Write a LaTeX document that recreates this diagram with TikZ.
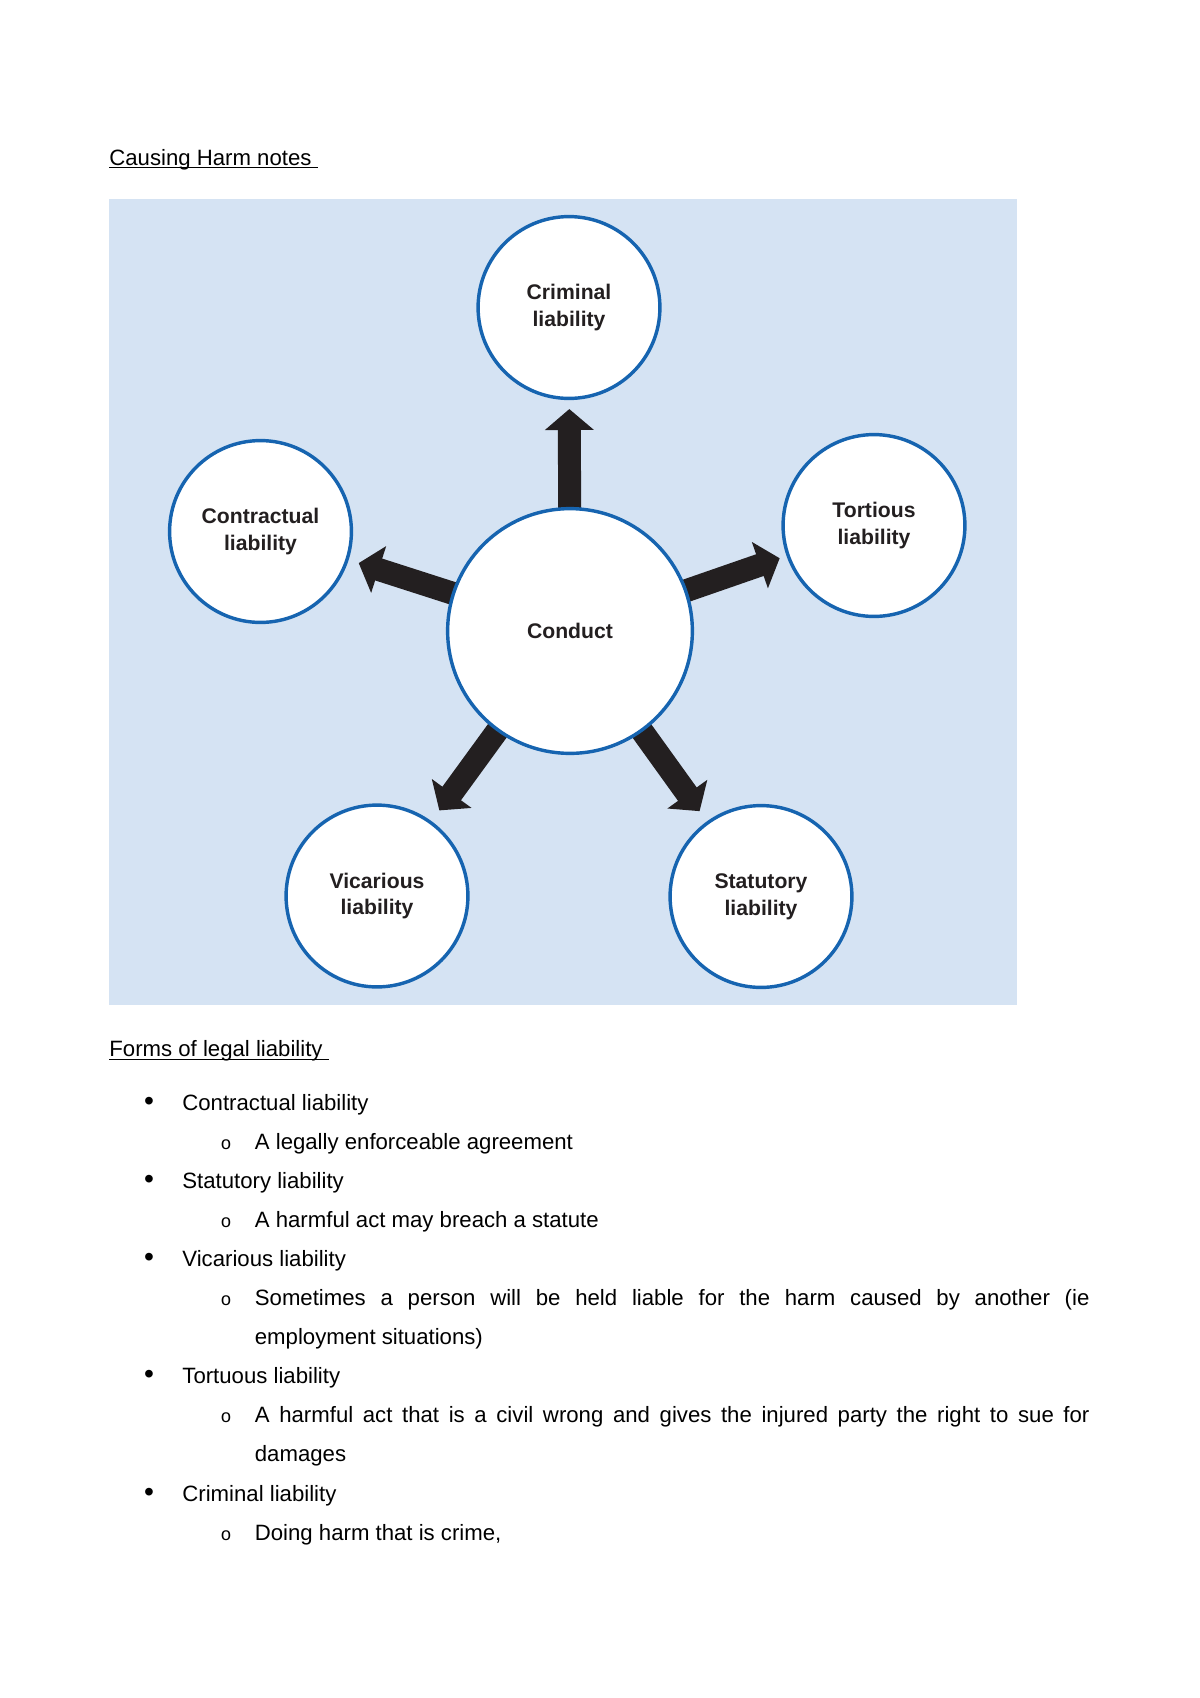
\documentclass[tikz,border=0pt]{standalone}
\usepackage{fontspec}
\setmainfont{Liberation Sans}
\newfontfamily\monofont{Liberation Mono}
\usetikzlibrary{arrows.meta,calc}
\definecolor{bgblue}{RGB}{213,227,243}
\definecolor{ringblue}{RGB}{22,100,176}
\definecolor{arrowc}{RGB}{35,31,32}
\pgfdeclarelayer{bg}
\pgfdeclarelayer{arr}
\pgfsetlayers{bg,arr,main}
\begin{document}
\begin{tikzpicture}[x=0.496063pt,y=-0.496063pt,
  ring/.style={circle,draw=ringblue,line width=1.7pt,fill=white,inner sep=0pt,
    minimum size=90.2pt,align=center,text=arrowc,
    font=\bfseries\fontsize{10.5}{13.2}\selectfont},
  bigring/.style={ring,minimum size=121.4pt},
  bigarrow/.style={draw=arrowc,line width=11.4pt,
    -{Triangle[width=23.8pt,length=10.4pt]}},
  body/.style={anchor=base west,inner sep=0pt,font=\fontsize{11}{13}\selectfont},
  bul/.style={anchor=base,inner sep=0pt,font=\fontsize{14}{16}\selectfont},
  subbul/.style={anchor=base,inner sep=0pt,font=\monofont\fontsize{9}{11}\selectfont},
  uline/.style={line width=0.5pt}]
\useasboundingbox (0,0) rectangle (1200,1698);

% heading
\node[body] (title) at (109,165) {Causing Harm notes};
\draw[uline] ([yshift=-1.3pt]title.base west) -- ++(209,0);

% diagram background
\begin{pgfonlayer}{bg}
\fill[bgblue] (109,199) rectangle (1017,1005);
\end{pgfonlayer}

% circles
\node[bigring] (cond) at (570,631) {Conduct};
\node[ring] (crim) at (569,307.5) {Criminal\\liability};
\node[ring] (cont) at (260.5,531.5) {Contractual\\liability};
\node[ring] (tort) at (874,525.5) {Tortious\\liability};
\node[ring] (vica) at (377,896) {Vicarious\\liability};
\node[ring] (stat) at (761,896.5) {Statutory\\liability};

% arrows
\begin{pgfonlayer}{arr}
\foreach \t in {crim,cont,tort,vica,stat}{
  \draw[bigarrow] (cond.center) -- ($(cond.center)!110.1pt!(\t.center)$);
}
\end{pgfonlayer}

% second heading
\node[body] (forms) at (109,1056.5) {Forms of legal liability};
\draw[uline] ([yshift=-1.3pt]forms.base west) -- ++(220,0);

% list
\node[bul] (b1) at (149,1110) {•};
\node[body] (l1) at (182,1110) {Contractual liability};
\node[subbul] (s1) at (226,1149.1) {o};
\node[body] (m1) at (254.5,1149.1) {A legally enforceable agreement};

\node[bul] (b2) at (149,1188.2) {•};
\node[body] (l2) at (182,1188.2) {Statutory liability};
\node[subbul] (s2) at (226,1227.3) {o};
\node[body] (m2) at (254.5,1227.3) {A harmful act may breach a statute};

\node[bul] (b3) at (149,1266.4) {•};
\node[body] (l3) at (182,1266.4) {Vicarious liability};
\node[subbul] (s3) at (226,1305.5) {o};
\node[body] (m3) at (254.5,1305.5) {\makebox[414pt][s]{Sometimes a person will be held liable for the harm caused by another (ie}};
\node[body] (m3b) at (254.5,1344.6) {employment situations)};

\node[bul] (b4) at (149,1383.7) {•};
\node[body] (l4) at (182,1383.7) {Tortuous liability};
\node[subbul] (s4) at (226,1422.8) {o};
\node[body] (m4) at (254.5,1422.8) {\makebox[414pt][s]{A harmful act that is a civil wrong and gives the injured party the right to sue for}};
\node[body] (m4b) at (254.5,1461.9) {damages};

\node[bul] (b5) at (149,1501) {•};
\node[body] (l5) at (182,1501) {Criminal liability};
\node[subbul] (s5) at (226,1540.1) {o};
\node[body] (m5) at (254.5,1540.1) {Doing harm that is crime,};
\end{tikzpicture}
\end{document}
